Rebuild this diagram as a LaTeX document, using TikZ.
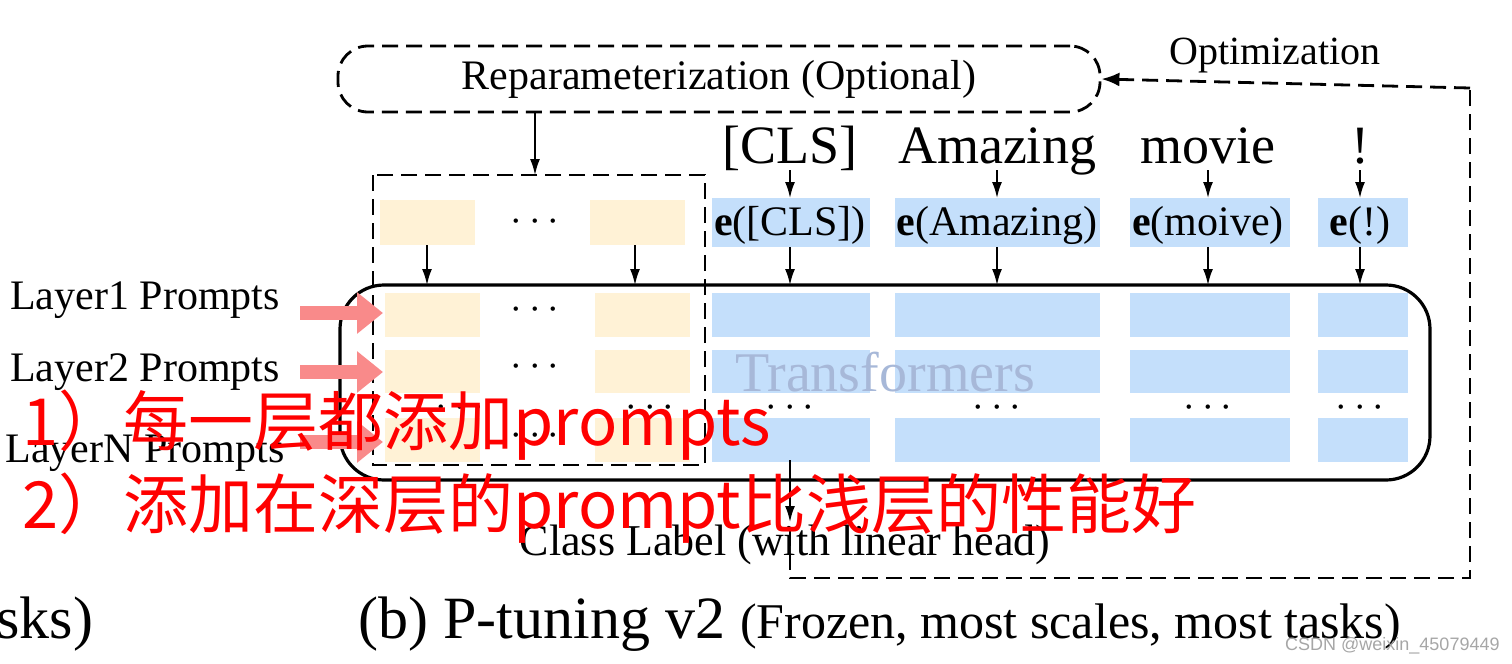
\documentclass[tikz,border=0pt]{standalone}
\usepackage{fontspec}
\setmainfont{Liberation Serif}
\newfontfamily\cjk{Noto Sans CJK SC}
\newfontfamily\wm{Liberation Sans}
\usetikzlibrary{arrows.meta}
\definecolor{yel}{HTML}{FFF2D6}
\definecolor{blu}{HTML}{C4DFFB}
\definecolor{pinkarr}{HTML}{F98A8A}
\definecolor{tgrey}{HTML}{A7B8D8}
\begin{document}
\begin{tikzpicture}[x=0.5pt,y=-0.5pt,
  ybox/.style={fill=yel,draw=none},
  bbox/.style={fill=blu,draw=none},
  arr/.style={-{Latex[length=8pt,width=5pt]},line width=0.9pt},
  dsh/.style={dashed,dash pattern=on 8pt off 4pt,line width=1.4pt},
  pk/.style={-{Triangle[length=13pt,width=20pt]},line width=7pt,pinkarr},
  txt/.style={inner sep=0pt,font=\fontsize{21}{23}\selectfont},
  tok/.style={inner sep=0pt,font=\fontsize{27}{29}\selectfont},
  cn/.style={inner sep=0pt,anchor=west,text=red,font=\cjk\fontsize{32.5}{35}\selectfont}]
\useasboundingbox (0,0) rectangle (1512,664);
% reparam
\node[draw,dsh,rounded corners=15pt,minimum width=381pt,minimum height=33pt,txt] (rep) at (719,79) {Reparameterization (Optional)};
\node[txt,font=\fontsize{20}{22}\selectfont] (opt) at (1275,56) {Optimization};
% prompt dashed box
\draw[dsh] (373,175) rectangle (705,465);
\coordinate (pt) at (535,175);
\draw[arr] (rep.south -| pt) -- (pt);
% top prompt boxes
\fill[ybox] (380,200) rectangle (475,245);
\fill[ybox] (590,200) rectangle (685,245);
\node[txt] (d0) at (535,222) {$\cdots$};
\coordinate (t1) at (427,245); \coordinate (t2) at (635,245);
% transformers box
\draw[line width=1.6pt,rounded corners=22pt] (340,285) rectangle (1430,480);
\draw[arr] (t1) -- (427,285);
\draw[arr] (t2) -- (635,285);
% inner rows
\foreach \ya/\yb in {293/337,350/393,418/462}{
  \fill[ybox] (385,\ya) rectangle (480,\yb);
  \fill[ybox] (595,\ya) rectangle (690,\yb);
  \fill[bbox] (712,\ya) rectangle (870,\yb);
  \fill[bbox] (895,\ya) rectangle (1100,\yb);
  \fill[bbox] (1130,\ya) rectangle (1290,\yb);
  \fill[bbox] (1318,\ya) rectangle (1408,\yb);}
\foreach \y in {310,367,436}{\node[txt] at (535,\y) {$\cdots$};}
\foreach \x in {460,650,790,997,1208,1360}{\node[txt] at (\x,408) {$\cdots$};}
\node[inner sep=0pt,text=tgrey,font=\fontsize{28}{30}\selectfont] (tf) at (885,372) {Transformers};
% tokens and embeddings
\foreach \n/\x/\t/\e/\xa/\xb in {cls/790/[CLS]/{\textbf{e}([CLS])}/712/870,
  am/997/Amazing/{\textbf{e}(Amazing)}/895/1100,
  mv/1208/movie/{\textbf{e}(moive)}/1130/1290,
  ex/1360/!/{\textbf{e}(!)}/1318/1408}{
  \node[tok,anchor=base] (w\n) at (\x,163) {\t};
  \fill[bbox] (\xa,198) rectangle (\xb,247);
  \node[txt,anchor=base] (e\n) at (\x,235) {\e};
  \draw[arr] (\x,170) -- (\x,198);
  \draw[arr] (\x,247) -- (\x,285);}
% class label
\node[txt,font=\fontsize{22}{24}\selectfont] (cl) at (785,545) {Class Label (with linear head)};
\draw[arr] (790,460) -- (790,522);
\draw[dsh] (790,530) -- (790,578) -- (1470,578) -- (1470,88);
\draw[dsh,-{Latex[length=9pt,width=7pt]}] (1470,88) -- (rep.east);
% left labels
\node[txt] (l1) at (145,300) {Layer1 Prompts};
\node[txt] (l2) at (145,372) {Layer2 Prompts};
\node[txt] (ln) at (145,453) {LayerN Prompts};
\draw[pk] (300,313) -- (383,313);
\draw[pk] (300,372) -- (383,372);
\draw[pk] (300,442) -- (383,442);
% captions
\node[inner sep=0pt,anchor=base west,font=\fontsize{30}{32}\selectfont] (cap) at (358,638) {(b) P-tuning v2 {\fontsize{25}{27}\selectfont(Frozen, most scales, most tasks)}};
\node[inner sep=0pt,anchor=base west,font=\fontsize{30}{32}\selectfont] (cap0) at (-4,638) {sks)};
% red notes
\node[cn] (n1) at (22,425) {1）每一层都添加prompts};
\node[cn] (n2) at (22,508) {2）添加在深层的prompt比浅层的性能好};
\node[inner sep=0pt,anchor=east,text=gray!70,font=\wm\fontsize{9}{10}\selectfont] (wmk) at (1500,646) {CSDN @weixin\_45079449};
\end{tikzpicture}
\end{document}
